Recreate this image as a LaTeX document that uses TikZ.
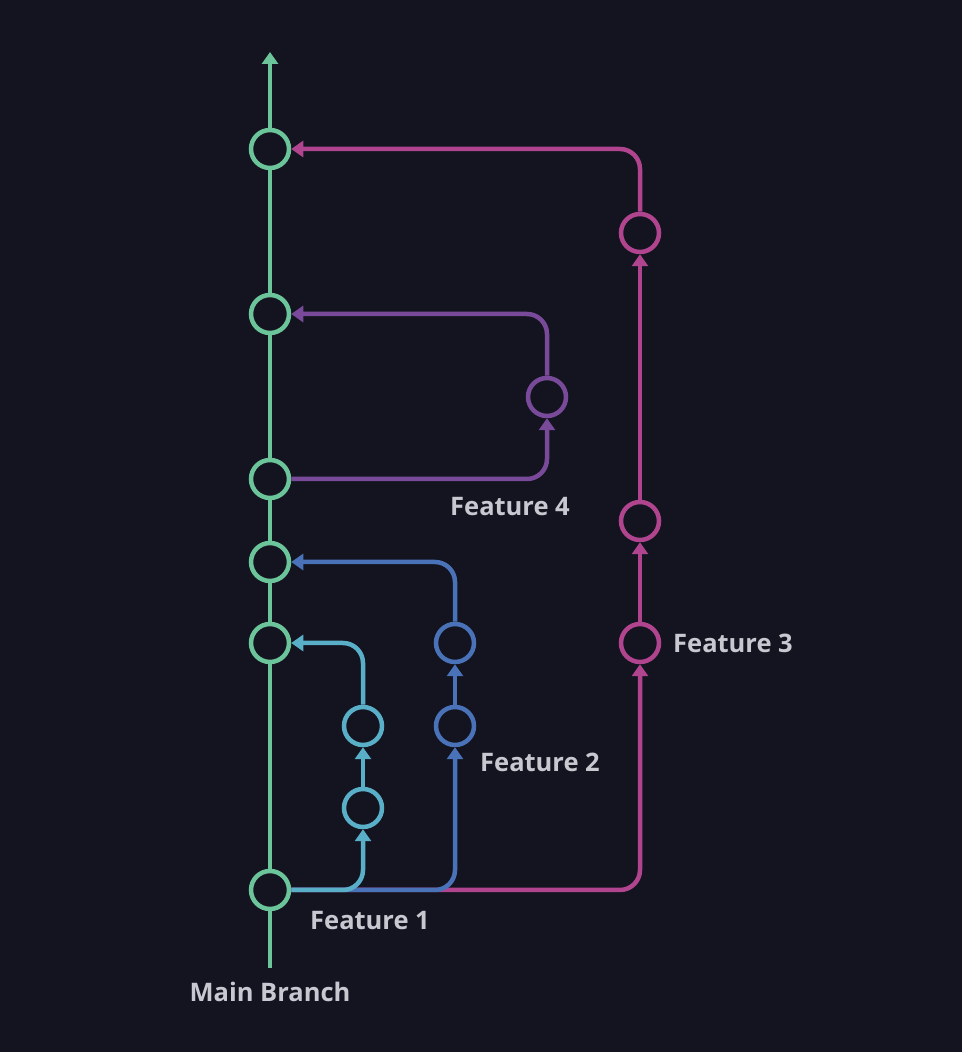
\documentclass[tikz,border=0pt]{standalone}
\usepackage{fontspec}
\setmainfont{Open Sans}
\usetikzlibrary{arrows.meta}
\definecolor{bg}{HTML}{13141F}
\definecolor{cmain}{HTML}{6CC49A}
\definecolor{cfa}{HTML}{5AAFC8}
\definecolor{cfb}{HTML}{4A72B8}
\definecolor{cfc}{HTML}{B0448E}
\definecolor{cfd}{HTML}{7A4A9A}
\definecolor{ctxt}{HTML}{C8C8D0}
\begin{document}
\begin{tikzpicture}[x=1pt,y=1pt,
 commit/.style={circle,draw=#1,fill=bg,line width=4.5pt,minimum size=38pt,inner sep=0pt},
 br/.style={draw=#1,line width=4.5pt,rounded corners=20pt,-{Triangle[length=12pt,width=16pt]}},
 lbl/.style={text=ctxt,font=\bfseries\fontsize{25.5}{28}\selectfont}]
\fill[bg] (0,0) rectangle (962,1052);
\def\Y#1{1052-#1}
\coordinate (bot) at (270,{\Y{968}});
\coordinate (top) at (270,{\Y{52}});
\node[commit=cmain] (m1) at (270,{\Y{890}}) {};
\node[commit=cmain] (m2) at (270,{\Y{643}}) {};
\node[commit=cmain] (m3) at (270,{\Y{562}}) {};
\node[commit=cmain] (m4) at (270,{\Y{479}}) {};
\node[commit=cmain] (m5) at (270,{\Y{314}}) {};
\node[commit=cmain] (m6) at (270,{\Y{149}}) {};
\node[commit=cfa] (a1) at (363,{\Y{808}}) {};
\node[commit=cfa] (a2) at (363,{\Y{726}}) {};
\node[commit=cfb] (b1) at (455,{\Y{726}}) {};
\node[commit=cfb] (b2) at (455,{\Y{643}}) {};
\node[commit=cfc] (c1) at (640,{\Y{643}}) {};
\node[commit=cfc] (c2) at (640,{\Y{521}}) {};
\node[commit=cfc] (c3) at (640,{\Y{233}}) {};
\node[commit=cfd] (d1) at (547,{\Y{397}}) {};
% main
\draw[draw=cmain,line width=4.5pt] (bot)--(m1) (m1)--(m2) (m2)--(m3) (m3)--(m4) (m4)--(m5) (m5)--(m6);
\draw[br=cmain] (m6)--(top);
% feature 3
\draw[br=cfc] (m1.east) -| (c1.south);
\draw[br=cfc] (c1)--(c2);
\draw[br=cfc] (c2)--(c3);
\draw[br=cfc] (c3.north) |- (m6.east);
% feature 2
\draw[br=cfb] (m1.east) -| (b1.south);
\draw[br=cfb] (b1)--(b2);
\draw[br=cfb] (b2.north) |- (m3.east);
% feature 1
\draw[br=cfa] (m1.east) -| (a1.south);
\draw[br=cfa] (a1)--(a2);
\draw[br=cfa] (a2.north) |- (m2.east);
% feature 4
\draw[br=cfd] (m4.east) -| (d1.south);
\draw[br=cfd] (d1.north) |- (m5.east);
% labels
\node[lbl] (l1) at (370,{\Y{921}}) {Feature 1};
\node[lbl] (l2) at (540,{\Y{762}}) {Feature 2};
\node[lbl] (l3) at (733,{\Y{643}}) {Feature 3};
\node[lbl] (l4) at (510,{\Y{507}}) {Feature 4};
\node[lbl] (l0) at (270,{\Y{992}}) {Main Branch};
\end{tikzpicture}
\end{document}
